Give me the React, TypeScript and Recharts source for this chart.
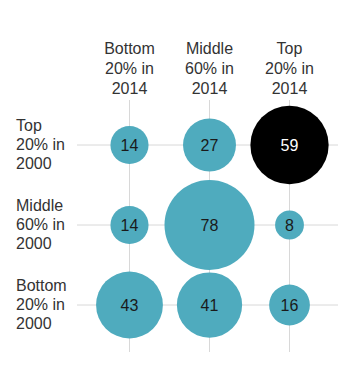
import React from "react";
import {
  ScatterChart,
  Scatter,
  XAxis,
  YAxis,
  ZAxis,
  ReferenceLine,
  Cell,
  LabelList,
} from "recharts";

// columns = quintile in 2014, rows = quintile in 2000 (top to bottom)
const COL_LABELS = [
  ["Bottom", "20% in", "2014"],
  ["Middle", "60% in", "2014"],
  ["Top", "20% in", "2014"],
];
const ROW_LABELS = [
  ["Top", "20% in", "2000"],
  ["Middle", "60% in", "2000"],
  ["Bottom", "20% in", "2000"],
];
const TOP_ROW = [14, 27, 59];
const MIDDLE_ROW = [14, 78, 8];
const BOTTOM_ROW = [43, 41, 16];
const HIGHLIGHT = { row: 0, col: 2 };
const TICKS = [0, 1, 2];

const TEAL = "#4fabbe";
const TEXT = "#333";
const GRID = "#d8d8d8";
const MAX_R = 45;

const rows = [TOP_ROW, MIDDLE_ROW, BOTTOM_ROW];
const data = rows.flatMap((vals, r) =>
  vals.map((v, c) => ({
    x: c,
    y: rows.length - 1 - r,
    v,
    hi: r === HIGHLIGHT.row && c === HIGHLIGHT.col,
  }))
);
const maxV = Math.max(...data.map((d) => d.v));

function ColTick({ x, y, payload }: any) {
  const lines = COL_LABELS[payload.value] || [];
  return (
    <text x={x} y={y} textAnchor="middle" fill={TEXT} fontSize={16}>
      {lines.map((l, i) => (
        <tspan key={i} x={x} y={y - 46 + i * 20}>
          {l}
        </tspan>
      ))}
    </text>
  );
}

function RowTick({ x, y, payload }: any) {
  const lines = ROW_LABELS[rows.length - 1 - payload.value] || [];
  return (
    <text x={x - 61} y={y} textAnchor="start" fill={TEXT} fontSize={16}>
      {lines.map((l, i) => (
        <tspan key={i} x={x - 61} y={y - 14 + i * 19}>
          {l}
        </tspan>
      ))}
    </text>
  );
}

function ValueLabel(props: any) {
  const { x, y, width, height, value, index } = props;
  const d = data[index];
  return (
    <text
      x={x + width / 2}
      y={y + height / 2 + 6}
      textAnchor="middle"
      fontSize={16}
      fill={d && d.hi ? "#fff" : "#1a1a1a"}
    >
      {value}
    </text>
  );
}

export default function App() {
  return (
    <div
      style={{
        position: "absolute",
        left: 0,
        top: 0,
        width: 350,
        height: 372,
        background: "#fff",
        fontFamily: "'Liberation Sans', Arial, sans-serif",
      }}
    >
      <ScatterChart
        width={350}
        height={372}
        margin={{ top: 0, right: 12, bottom: 20, left: 0 }}
      >
        <XAxis
          type="number"
          dataKey="x"
          orientation="top"
          domain={[-0.656, 2.606]}
          ticks={TICKS}
          height={100}
          axisLine={false}
          tickLine={false}
          tickSize={0}
          tickMargin={0}
          tick={<ColTick />}
          allowDataOverflow
        />
        <YAxis
          type="number"
          dataKey="y"
          domain={[-0.5875, 2.5625]}
          ticks={TICKS}
          width={77}
          axisLine={false}
          tickLine={false}
          tickSize={0}
          tickMargin={0}
          tick={<RowTick />}
          allowDataOverflow
        />
        <ZAxis
          type="number"
          dataKey="v"
          domain={[0, maxV]}
          range={[0, Math.PI * MAX_R * MAX_R]}
        />
        {TICKS.map((t) => (
          <ReferenceLine key={"vx" + t} x={t} stroke={GRID} strokeWidth={1} />
        ))}
        {TICKS.map((t) => (
          <ReferenceLine key={"hy" + t} y={t} stroke={GRID} strokeWidth={1} />
        ))}
        <Scatter data={data} shape="circle" isAnimationActive={false}>
          {data.map((d, i) => (
            <Cell key={i} fill={d.hi ? "#000" : TEAL} />
          ))}
          <LabelList dataKey="v" content={<ValueLabel />} />
        </Scatter>
      </ScatterChart>
    </div>
  );
}
